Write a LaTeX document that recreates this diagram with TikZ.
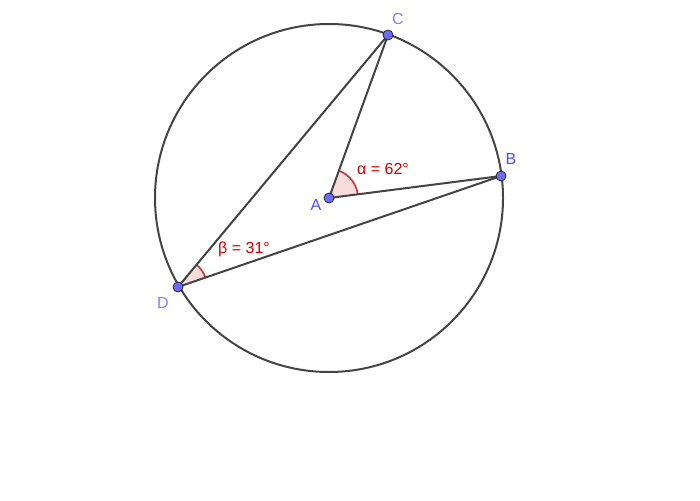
\documentclass[tikz,border=0pt]{standalone}
\usepackage{fontspec}
\setmainfont{Liberation Sans}
\usetikzlibrary{angles}
\definecolor{linegray}{HTML}{444444}
\definecolor{ptfill}{HTML}{6B6BFF}
\definecolor{lblA}{HTML}{4D4DFF}
\definecolor{lblC}{HTML}{8080FF}
\definecolor{angred}{HTML}{D03030}
\definecolor{angfill}{HTML}{F9DCDC}
\definecolor{txtred}{HTML}{CC0000}
\tikzset{
  seg/.style={draw=linegray, line width=2pt},
  pt/.style={circle, fill=ptfill, draw=black!85, line width=0.8pt, inner sep=0pt, minimum size=10pt},
  lbl/.style={font=\fontsize{16}{17}\selectfont},
  angmark/.style={draw=angred, fill=angfill, line width=1.6pt, angle radius=29pt},
}
\begin{document}
\begin{tikzpicture}[x=1pt,y=-1pt]
\useasboundingbox (0,0) rectangle (700,500);
\coordinate (A) at (329,198);
\coordinate (B) at (501,176);
\coordinate (C) at (388,35);
\coordinate (D) at (178,287);
\draw[seg] (A) circle[radius=174];
\pic[angmark] {angle=B--A--C};
\pic[angmark] {angle=B--D--C};
\draw[seg] (D) -- (C);
\draw[seg] (D) -- (B);
\draw[seg] (A) -- (B);
\draw[seg] (A) -- (C);
\node[pt] (pA) at (A) {};
\node[pt] (pB) at (B) {};
\node[pt] (pC) at (C) {};
\node[pt] (pD) at (D) {};
\node[lbl, text=lblA] (tA) at (316,205) {A};
\node[lbl, text=lblA] (tB) at (511,159) {B};
\node[lbl, text=lblC] (tC) at (398,19) {C};
\node[lbl, text=lblC] (tD) at (163,303) {D};
\node[lbl, text=txtred] (alpha) at (383,169) {α = 62°};
\node[lbl, text=txtred] (beta) at (244,249) {β = 31°};
\end{tikzpicture}
\end{document}
